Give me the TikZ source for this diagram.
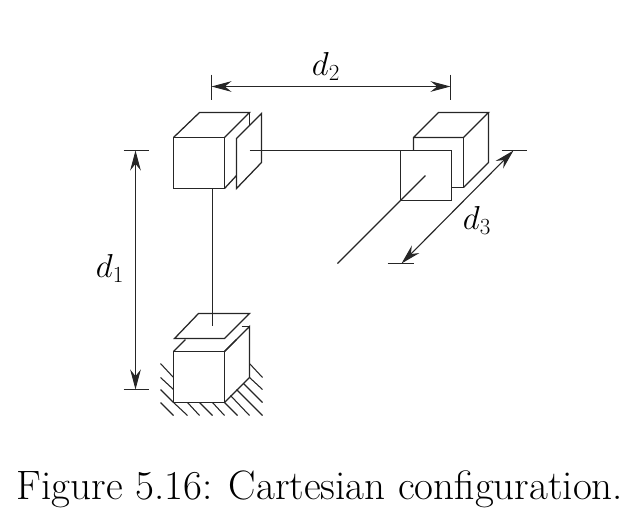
\documentclass[tikz,border=0pt]{standalone}
\usetikzlibrary{arrows.meta}
\tikzset{
  edge/.style={line width=0.95pt,line join=miter,draw=black!85},
  thin edge/.style={line width=0.85pt,draw=black!85},
  hatch/.style={line width=0.8pt,draw=black!85},
  dim/.style={line width=0.85pt,draw=black!85,{Stealth[length=15pt,width=8pt,inset=5pt]}-{Stealth[length=15pt,width=8pt,inset=5pt]}},
  lab/.style={inner sep=0pt,font=\fontsize{25}{28}\selectfont},
}
\begin{document}
\begin{tikzpicture}[x=0.75pt,y=-0.75pt]
\useasboundingbox (0,0) rectangle (637,511);
\begin{scope}[shift={(0.5,0.5)}]
% base cube
\draw[edge] (173,351) -- (224,351) -- (224,402) -- (173,402) -- cycle;
\draw[edge] (224,351) -- (249,326) -- (249,377) -- (224,402);
\draw[edge] (173,351) -- (185,339);
\draw[edge] (224,351) -- (236,339);
\draw[edge] (241,326) -- (249,326);
% base plate
\draw[edge] (174,338) -- (198,313) -- (249,313) -- (224,338) -- cycle;
% hatching
\foreach \a/\b/\c/\d in {160/363/173/377, 160/377/173/389, 160/389/173/402, 160/402/173/415,
  173/402/187/415, 187/402/199/415, 199/402/212/415, 212/402/224/415,
  224/402/237/415, 230/395/249/415, 236/389/262/415, 243/383/262/402, 249/377/262/389, 249/363/262/377}
  \draw[hatch] (\a,\b) -- (\c,\d);
% link 1
\draw[thin edge] (212,188) -- (212,325);
% top-left cube
\draw[edge] (173,137) -- (224,137) -- (224,188) -- (173,188) -- cycle;
\draw[edge] (173,137) -- (199,112) -- (249,112) -- (224,137);
\draw[edge] (249,112) -- (249,124);
\draw[edge] (224,188) -- (236,175);
% plate
\draw[edge] (236,188) -- (236,138) -- (261,113) -- (261,162) -- cycle;
% link 2
\draw[thin edge] (249,150) -- (400,150);
% right cube
\draw[edge] (413,150) -- (413,137) -- (438,112) -- (488,112) -- (463,137) -- (413,137);
\draw[edge] (463,137) -- (463,187) -- (451,187);
\draw[edge] (488,112) -- (488,162) -- (463,187);
\draw[edge] (400,150) -- (451,150) -- (451,200) -- (400,200) -- cycle;
% link 3
\draw[thin edge] (425,175) -- (337,263);
% dimension ticks
\draw[thin edge] (211,74) -- (211,99);
\draw[thin edge] (450,74) -- (450,99);
\draw[thin edge] (123,150) -- (148,150);
\draw[thin edge] (123,389) -- (148,389);
\draw[thin edge] (501,150) -- (526,150);
\draw[thin edge] (387,263) -- (413,263);
% dimension arrows
\coordinate (d2a) at (211,86);
\coordinate (d2b) at (450,86);
\coordinate (d1a) at (135,150);
\coordinate (d1b) at (135,389);
\coordinate (d3a) at (401,263);
\coordinate (d3b) at (513,150);
\draw[dim] (d2a) -- (d2b);
\draw[dim] (d1a) -- (d1b);
\draw[dim] (d3a) -- (d3b);
\end{scope}
% labels
\node[lab] (l2) at (326,66) {$d_2$};
\node[lab] (l1) at (110,268) {$d_1$};
\node[lab] (l3) at (477,220) {$d_3$};
\node[inner sep=0pt,font=\fontsize{30.8}{34}\selectfont] (cap) at (320,489) {Figure 5.16: Cartesian configuration.};
\end{tikzpicture}
\end{document}
